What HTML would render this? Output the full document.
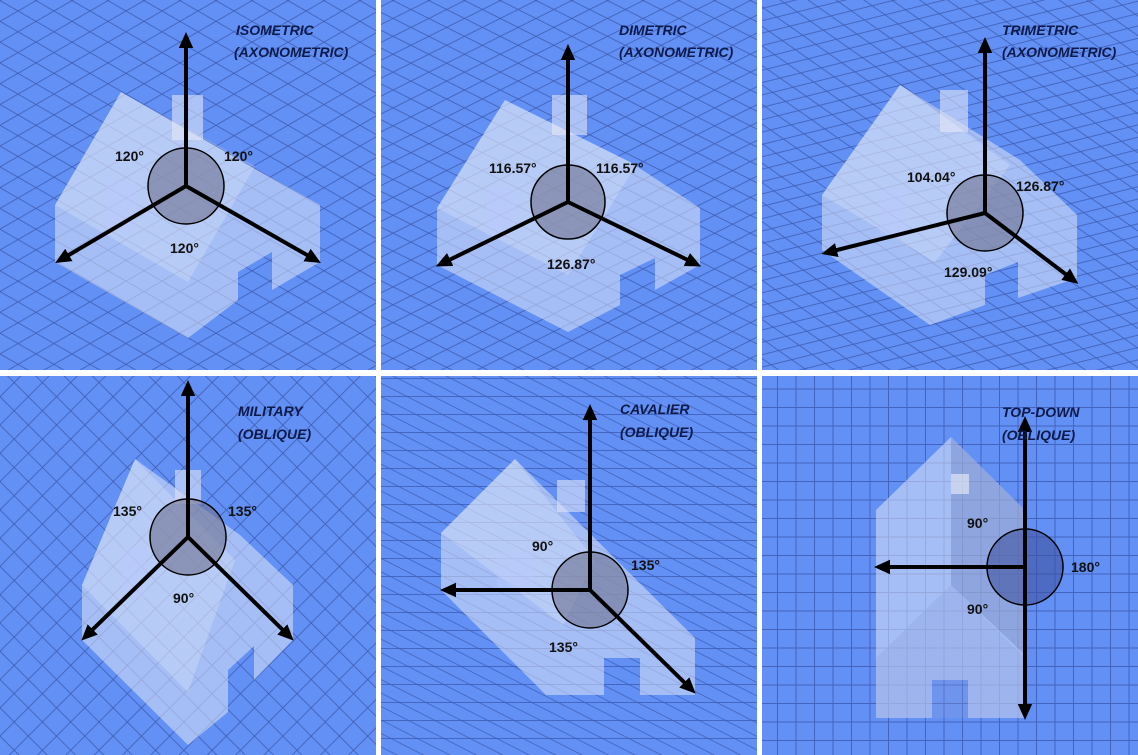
<!DOCTYPE html>
<html><head><meta charset="utf-8"><style>
html,body{margin:0;padding:0;background:#fff;}
svg{display:block}
text{font-family:"Liberation Sans",sans-serif;font-weight:bold;font-size:14px;fill:#111}
.t{font-style:italic;fill:#0d1a4a}
</style></head><body>
<svg width="1138" height="755" viewBox="0 0 1138 755" xmlns="http://www.w3.org/2000/svg">
<defs>
<marker id="ah" markerWidth="4" markerHeight="4" refX="2" refY="2" orient="auto" markerUnits="strokeWidth"><path d="M0,0.2 L4,2 L0,3.8 z" fill="#000"/></marker>
<pattern id="l1" width="18" height="18" patternUnits="userSpaceOnUse" patternTransform="rotate(30)"><line x1="0" y1="0.5" x2="18" y2="0.5" stroke="#3d5cb4" stroke-opacity="0.8" stroke-width="1"/></pattern>
<pattern id="l2" width="18" height="18" patternUnits="userSpaceOnUse" patternTransform="rotate(-30)"><line x1="0" y1="0.5" x2="18" y2="0.5" stroke="#3d5cb4" stroke-opacity="0.8" stroke-width="1"/></pattern>
<pattern id="d1" width="18" height="16" patternUnits="userSpaceOnUse" patternTransform="rotate(26.6)"><line x1="0" y1="0.5" x2="18" y2="0.5" stroke="#3d5cb4" stroke-opacity="0.8"/></pattern>
<pattern id="d2" width="18" height="16" patternUnits="userSpaceOnUse" patternTransform="rotate(-26.6)"><line x1="0" y1="0.5" x2="18" y2="0.5" stroke="#3d5cb4" stroke-opacity="0.8"/></pattern>
<pattern id="t1" width="18" height="16" patternUnits="userSpaceOnUse" patternTransform="rotate(35)"><line x1="0" y1="0.5" x2="18" y2="0.5" stroke="#3d5cb4" stroke-opacity="0.8"/></pattern>
<pattern id="t2" width="18" height="12" patternUnits="userSpaceOnUse" patternTransform="rotate(-14)"><line x1="0" y1="0.5" x2="18" y2="0.5" stroke="#3d5cb4" stroke-opacity="0.8"/></pattern>
<pattern id="m1" width="20" height="20" patternUnits="userSpaceOnUse" patternTransform="rotate(45)"><line x1="0" y1="0.5" x2="20" y2="0.5" stroke="#3d5cb4" stroke-opacity="0.8"/><line x1="0.5" y1="0" x2="0.5" y2="20" stroke="#3d5cb4" stroke-opacity="0.8"/></pattern>
<pattern id="c1" width="18" height="18" patternUnits="userSpaceOnUse"><line x1="0" y1="0.5" x2="18" y2="0.5" stroke="#3d5cb4" stroke-opacity="0.8"/></pattern>
<pattern id="c2" width="18" height="12" patternUnits="userSpaceOnUse" patternTransform="rotate(27)"><line x1="0" y1="0.5" x2="18" y2="0.5" stroke="#3d5cb4" stroke-opacity="0.7"/></pattern>
<pattern id="g1" width="18.5" height="18.5" patternUnits="userSpaceOnUse"><path d="M0,0.5H18.5M0.5,0V18.5" stroke="#3d5cb4" stroke-opacity="0.85" fill="none"/></pattern>
</defs>

<g>
<rect x="0" y="0" width="376" height="370" fill="#6390f4"/><rect x="0" y="0" width="376" height="370" fill="url(#l1)"/><rect x="0" y="0" width="376" height="370" fill="url(#l2)"/>
<rect x="381" y="0" width="376" height="370" fill="#6390f4"/><rect x="381" y="0" width="376" height="370" fill="url(#d1)"/><rect x="381" y="0" width="376" height="370" fill="url(#d2)"/>
<rect x="762" y="0" width="376" height="370" fill="#6390f4"/><rect x="762" y="0" width="376" height="370" fill="url(#t1)"/><rect x="762" y="0" width="376" height="370" fill="url(#t2)"/>
<rect x="0" y="376" width="376" height="379" fill="#6390f4"/><rect x="0" y="376" width="376" height="379" fill="url(#m1)"/>
<rect x="381" y="376" width="376" height="379" fill="#6390f4"/><rect x="381" y="376" width="376" height="379" fill="url(#c1)"/><rect x="381" y="376" width="376" height="379" fill="url(#c2)"/>
<rect x="762" y="376" width="376" height="379" fill="#6390f4"/><rect x="762" y="376" width="376" height="379" fill="url(#g1)"/>
</g>

<!-- Panel 1 -->
<rect x="172" y="95" width="31" height="45" fill="#dfe4f6" fill-opacity="0.6"/>
<polygon points="121,92 250,166 320,205 320,262 272,290 272,252 238,272 238,300 188,338 55,262 55,205" fill="#dde3f5" fill-opacity="0.55"/>
<polygon points="121,92 55,205 188,282 255,166" fill="#fff" fill-opacity="0.2"/>
<rect x="106" y="180" width="30" height="50" fill="#b8c8ff" fill-opacity="0.4"/>
<circle cx="186" cy="186" r="38" fill="#6e7290" fill-opacity="0.6" stroke="#000" stroke-width="1.5"/>
<g stroke="#000" stroke-width="4" marker-end="url(#ah)"><line x1="186" y1="186" x2="186" y2="40"/><line x1="186" y1="186" x2="62" y2="259"/><line x1="186" y1="186" x2="314" y2="259"/></g>
<text x="115" y="161">120°</text><text x="224" y="161">120°</text><text x="170" y="253">120°</text>
<text class="t" x="236" y="35">ISOMETRIC</text><text class="t" x="234" y="57">(AXONOMETRIC)</text>

<!-- Panel 2 -->
<rect x="552" y="95" width="35" height="40" fill="#dfe4f6" fill-opacity="0.6"/>
<polygon points="505,100 630,162 700,208 700,265 655,290 655,258 620,275 620,305 568,332 437,265 437,208" fill="#dde3f5" fill-opacity="0.55"/>
<polygon points="505,100 437,208 568,275 636,165" fill="#fff" fill-opacity="0.2"/>
<rect x="486" y="188" width="30" height="48" fill="#b8c8ff" fill-opacity="0.4"/>
<circle cx="568" cy="202" r="37" fill="#6e7290" fill-opacity="0.6" stroke="#000" stroke-width="1.5"/>
<g stroke="#000" stroke-width="4" marker-end="url(#ah)"><line x1="568" y1="202" x2="568" y2="52"/><line x1="568" y1="202" x2="443" y2="263"/><line x1="568" y1="202" x2="694" y2="263"/></g>
<text x="489" y="173">116.57°</text><text x="596" y="173">116.57°</text><text x="547" y="269">126.87°</text>
<text class="t" x="619" y="35">DIMETRIC</text><text class="t" x="619" y="57">(AXONOMETRIC)</text>

<!-- Panel 3 -->
<rect x="940" y="90" width="28" height="42" fill="#dfe4f6" fill-opacity="0.6"/>
<polygon points="900,85 1020,160 1077,215 1077,278 1018,298 1018,262 985,275 985,305 930,325 822,250 822,195" fill="#dde3f5" fill-opacity="0.55"/>
<polygon points="900,85 822,195 935,262 1010,165" fill="#fff" fill-opacity="0.2"/>
<rect x="880" y="190" width="28" height="45" fill="#b8c8ff" fill-opacity="0.4"/>
<circle cx="985" cy="213" r="38" fill="#6e7290" fill-opacity="0.6" stroke="#000" stroke-width="1.5"/>
<g stroke="#000" stroke-width="4" marker-end="url(#ah)"><line x1="985" y1="213" x2="985" y2="45"/><line x1="985" y1="213" x2="829" y2="252"/><line x1="985" y1="213" x2="1072" y2="279"/></g>
<text x="907" y="182">104.04°</text><text x="1016" y="191">126.87°</text><text x="944" y="277">129.09°</text>
<text class="t" x="1002" y="35">TRIMETRIC</text><text class="t" x="1002" y="57">(AXONOMETRIC)</text>

<!-- Panel 4 -->
<rect x="175" y="470" width="26" height="34" fill="#dfe4f6" fill-opacity="0.6"/>
<polygon points="135,459 240,535 293,585 293,640 254,680 254,646 228,670 228,712 188,745 82,640 82,585" fill="#dde3f5" fill-opacity="0.55"/>
<polygon points="135,459 82,585 188,692 235,560" fill="#fff" fill-opacity="0.2"/>
<rect x="122" y="548" width="24" height="50" fill="#b8c8ff" fill-opacity="0.4"/>
<circle cx="188" cy="537" r="38" fill="#6e7290" fill-opacity="0.6" stroke="#000" stroke-width="1.5"/>
<g stroke="#000" stroke-width="4" marker-end="url(#ah)"><line x1="188" y1="537" x2="188" y2="388"/><line x1="188" y1="537" x2="87" y2="635"/><line x1="188" y1="537" x2="288" y2="635"/></g>
<text x="113" y="516">135°</text><text x="228" y="516">135°</text><text x="173" y="603">90°</text>
<text class="t" x="238" y="416">MILITARY</text><text class="t" x="238" y="439">(OBLIQUE)</text>

<!-- Panel 5 -->
<rect x="557" y="480" width="28" height="32" fill="#dfe4f6" fill-opacity="0.6"/>
<polygon points="515,459 695,638 695,695 640,695 640,658 604,658 604,695 546,695 441,590 441,533" fill="#dde3f5" fill-opacity="0.55"/>
<polygon points="515,459 441,533 563,625 595,560" fill="#fff" fill-opacity="0.2"/>
<rect x="497" y="552" width="36" height="36" fill="#b8c8ff" fill-opacity="0.4"/>
<circle cx="590" cy="590" r="38" fill="#6e7290" fill-opacity="0.6" stroke="#000" stroke-width="1.5"/>
<g stroke="#000" stroke-width="4" marker-end="url(#ah)"><line x1="590" y1="590" x2="590" y2="412"/><line x1="590" y1="590" x2="448" y2="590"/><line x1="590" y1="590" x2="690" y2="688"/></g>
<text x="532" y="551">90°</text><text x="631" y="570">135°</text><text x="549" y="652">135°</text>
<text class="t" x="620" y="414">CAVALIER</text><text class="t" x="620" y="437">(OBLIQUE)</text>

<!-- Panel 6 -->
<polygon points="951,437 1025,510 1025,718 968,718 968,680 932,680 932,718 876,718 876,510" fill="#dde3f5" fill-opacity="0.55"/>
<polygon points="951,437 951,585 1025,655 1025,510" fill="#5a6cac" fill-opacity="0.3"/>
<polygon points="876,658 951,585 1025,658 1025,718 876,718" fill="#8aa0e0" fill-opacity="0.3"/>
<rect x="951" y="474" width="18" height="20" fill="#fff" fill-opacity="0.5"/>
<circle cx="1025" cy="567" r="38" fill="#3f54a0" fill-opacity="0.6" stroke="#000" stroke-width="1.5"/>
<g stroke="#000" stroke-width="4" marker-end="url(#ah)"><line x1="1025" y1="567" x2="1025" y2="424"/><line x1="1025" y1="567" x2="1025" y2="712"/><line x1="1025" y1="567" x2="882" y2="567"/></g>
<text x="967" y="528">90°</text><text x="1071" y="572">180°</text><text x="967" y="614">90°</text>
<text class="t" x="1002" y="417">TOP-DOWN</text><text class="t" x="1002" y="440">(OBLIQUE)</text>
</svg>
</body></html>
